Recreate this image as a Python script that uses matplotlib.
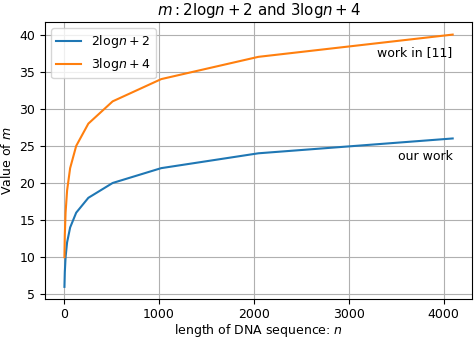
import matplotlib
matplotlib.use('Agg')
import matplotlib.pyplot as plt

plt.rcParams['font.size'] = 9

# sequence lengths and the resulting m for both schemes
n = [4, 8, 16, 32, 64, 128, 256, 512, 1024, 2048, 4096]
ours = [6, 8, 10, 12, 14, 16, 18, 20, 22, 24, 26]
ref11 = [10, 13, 16, 19, 22, 25, 28, 31, 34, 37, 40]

fig, ax = plt.subplots(figsize=(4.74, 3.38), dpi=100)
fig.subplots_adjust(left=0.095, right=0.996, top=0.935, bottom=0.114)

ax.plot(n, ours, label=r'$2\mathrm{log}n+2$')
ax.plot(n, ref11, label=r'$3\mathrm{log}n+4$')
ax.grid(True)
ax.tick_params(axis='x', pad=2.5)

ax.text(4096, 37.6, 'work in [11]', ha='right', va='center')
ax.text(4096, 23.6, 'our work', ha='right', va='center')

ax.set_title(r'$m: 2\mathrm{log}n+2$ and $3\mathrm{log}n+4$', pad=5)
ax.set_xlabel(r'length of DNA sequence: $n$', labelpad=1)
ax.set_ylabel(r'Value of $m$')
ax.legend(loc='upper left')

plt.savefig('out.png')
